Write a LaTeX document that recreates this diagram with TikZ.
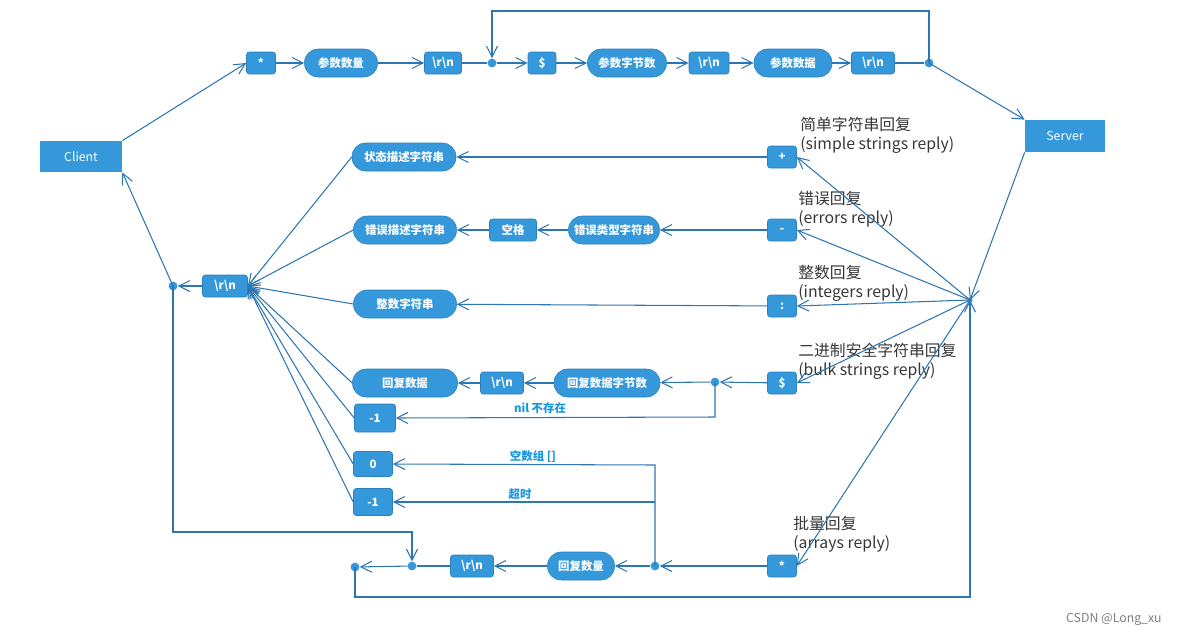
\documentclass[tikz,border=0pt]{standalone}
\usepackage{fontspec}
\setmainfont{Noto Sans CJK SC}
\usetikzlibrary{arrows.meta}
\definecolor{bfill}{RGB}{52,152,219}
\definecolor{bline}{RGB}{45,118,178}
\definecolor{lcyan}{RGB}{20,150,225}
\definecolor{ltext}{RGB}{55,55,55}
\begin{document}
\begin{tikzpicture}[x=0.02cm,y=-0.02cm,
  n/.style={fill=bfill,draw=bfill!85!black,line width=0.3pt,text=white,font=\fontsize{6.5}{7}\selectfont\bfseries,inner sep=0pt,minimum height=22*0.02cm,rounded corners=1.5pt},
  r/.style={n,minimum height=28*0.02cm,rounded corners=0.27cm},
  w/.style={minimum width=#1*0.02cm},
  sq/.style={fill=bfill,text=white,font=\fontsize{7}{8}\selectfont,inner sep=0pt},
  dot/.style={circle,fill=bfill,inner sep=0pt,minimum size=5pt},
  hub/.style={circle,fill=bfill,inner sep=0pt,minimum size=3pt},
  a/.style={draw=bline,line width=0.6pt,-{Straight Barb[length=2.2mm,width=2.2mm]}},
  l/.style={draw=bline,line width=0.6pt},
  lab/.style={text=ltext,font=\fontsize{9}{11}\selectfont,align=left,anchor=west,inner sep=0pt},
  cl/.style={text=lcyan,font=\fontsize{6.5}{7}\selectfont\bfseries,inner sep=0pt}]
\useasboundingbox (0,0) rectangle (1177,636);
% main nodes
\node[sq,w=82,minimum height=31*0.02cm] (client) at (81,156.5) {Client};
\node[sq,w=80,minimum height=32*0.02cm] (server) at (1065,136) {Server};
% top row
\node[n,w=29] (t1) at (261,63) {*};
\node[r,w=73] (t2) at (341,63) {参数数量};
\node[n,w=37] (t3) at (443,63) {\textbackslash r\textbackslash n};
\node[dot] (td1) at (492,63) {};
\node[n,w=28] (t4) at (542,63) {\$};
\node[r,w=79] (t5) at (627,63) {参数字节数};
\node[n,w=40] (t6) at (709,63) {\textbackslash r\textbackslash n};
\node[r,w=78] (t7) at (793,63) {参数数据};
\node[n,w=43] (t8) at (873,63) {\textbackslash r\textbackslash n};
\node[dot] (td2) at (929,63) {};
\coordinate (tc1) at (929,11);
\coordinate (tc2) at (492,11);
% hub
\node[hub] (hub) at (970,300) {};
% type symbols
\node[n,w=29] (plus) at (782,157) {+};
\node[n,w=29] (minus) at (782,230) {-};
\node[n,w=29] (colon) at (782,306) {:};
\node[n,w=29] (dollar) at (782,383) {\$};
\node[n,w=29] (star) at (782,566) {*};
% middle nodes
\node[r,w=104] (s1) at (404,157) {状态描述字符串};
\node[r,w=103] (e1) at (405,230) {错误描述字符串};
\node[n,w=47] (e2) at (513,230) {空格};
\node[r,w=91] (e3) at (614,230) {错误类型字符串};
\node[n,w=45] (crl) at (225,286) {\textbackslash r\textbackslash n};
\node[dot] (ld) at (173,286) {};
\node[r,w=103] (i1) at (405,304) {整数字符串};
\node[r,w=105] (b1) at (405,383) {回复数据};
\node[n,w=43] (b2) at (502,383) {\textbackslash r\textbackslash n};
\node[r,w=106] (b3) at (607,383) {回复数据字节数};
\node[dot] (bd) at (715,382) {};
\node[n,w=41,minimum height=28*0.02cm] (m1) at (375,418) {-1};
\coordinate (bc) at (715,417);
\node[n,w=39,minimum height=25*0.02cm] (z0) at (373,464) {0};
\node[n,w=39,minimum height=27*0.02cm] (m2) at (373,502) {-1};
\coordinate (ac1) at (655,465);
\coordinate (ac2) at (655,502);
\node[dot] (ad) at (655,566) {};
\node[r,w=67] (a1) at (581,566) {回复数量};
\node[n,w=43] (a2) at (472,566) {\textbackslash r\textbackslash n};
\node[dot] (ad2) at (412,566) {};
\node[dot] (ad3) at (355,567) {};
\coordinate (lc1) at (173,532);
\coordinate (lc2) at (412,532);
\coordinate (bl1) at (355,597);
\coordinate (bl2) at (970,597);
% labels
\node[lab] at (800,135) {简单字符串回复\\(simple strings reply)};
\node[lab] at (798,209) {错误回复\\(errors reply)};
\node[lab] at (798,283) {整数回复\\(integers reply)};
\node[lab] at (798,361) {二进制安全字符串回复\\(bulk strings reply)};
\node[lab] at (793,534) {批量回复\\(arrays reply)};
\node[cl] at (540,408) {nil 不存在};
\node[cl] at (533,457) {空数组 []};
\node[cl] at (520,494) {超时};
\node[text=gray,font=\fontsize{7}{8}\selectfont,anchor=east,inner sep=0pt] at (1162,619) {CSDN @Long\_xu};
% top connectors
\draw[a] (client.north east) -- (t1.west);
\draw[a] (t1) -- (t2);
\draw[a] (t2) -- (t3);
\draw[l] (t3) -- (td1);
\draw[a] (td1) -- (t4);
\draw[a] (t4) -- (t5);
\draw[a] (t5) -- (t6);
\draw[a] (t6) -- (t7);
\draw[a] (t7) -- (t8);
\draw[l] (t8) -- (td2);
\draw[a] (td2.center) -- (tc1) -- (tc2) -- (td1.north);
\draw[a] (td2.center) -- (server.north west);
\draw[a] (server.south west) -- (hub.center);
% hub to types
\draw[a] (hub.center) -- (plus.east);
\draw[a] (hub.center) -- (minus.east);
\draw[a] (hub.center) -- (colon.east);
\draw[a] (hub.center) -- (dollar.east);
\draw[a] (hub.center) -- (star.east);
% rows
\draw[a] (plus) -- (s1);
\draw[a] (minus) -- (e3);
\draw[a] (e3) -- (e2);
\draw[a] (e2) -- (e1);
\draw[a] (colon) -- (i1);
\draw[a] (dollar) -- (bd);
\draw[a] (bd) -- (b3);
\draw[a] (b3) -- (b2);
\draw[a] (b2) -- (b1);
\draw[a] (bd.center) -- (bc) -- (m1.east);
\draw[a] (star) -- (ad);
\draw[a] (ad) -- (a1);
\draw[a] (a1) -- (a2);
\draw[l] (a2) -- (ad2);
\draw[a] (ad.center) -- (ac1) -- (z0.east);
\draw[a] (ac2) -- (m2.east);
\draw[a] (ad2) -- (ad3);
\draw[a] (ad3.center) -- (bl1) -- (bl2) -- (hub.center);
% to left crlf
\foreach \s in {s1,e1,i1,b1,m1,z0,m2} \draw[a] (\s.west) -- (crl.east);
\draw[a] (crl) -- (ld);
\draw[a] (ld.center) -- (client.south east);
\draw[a] (ld.center) -- (lc1) -- (lc2) -- (ad2.north);
\end{tikzpicture}
\end{document}
